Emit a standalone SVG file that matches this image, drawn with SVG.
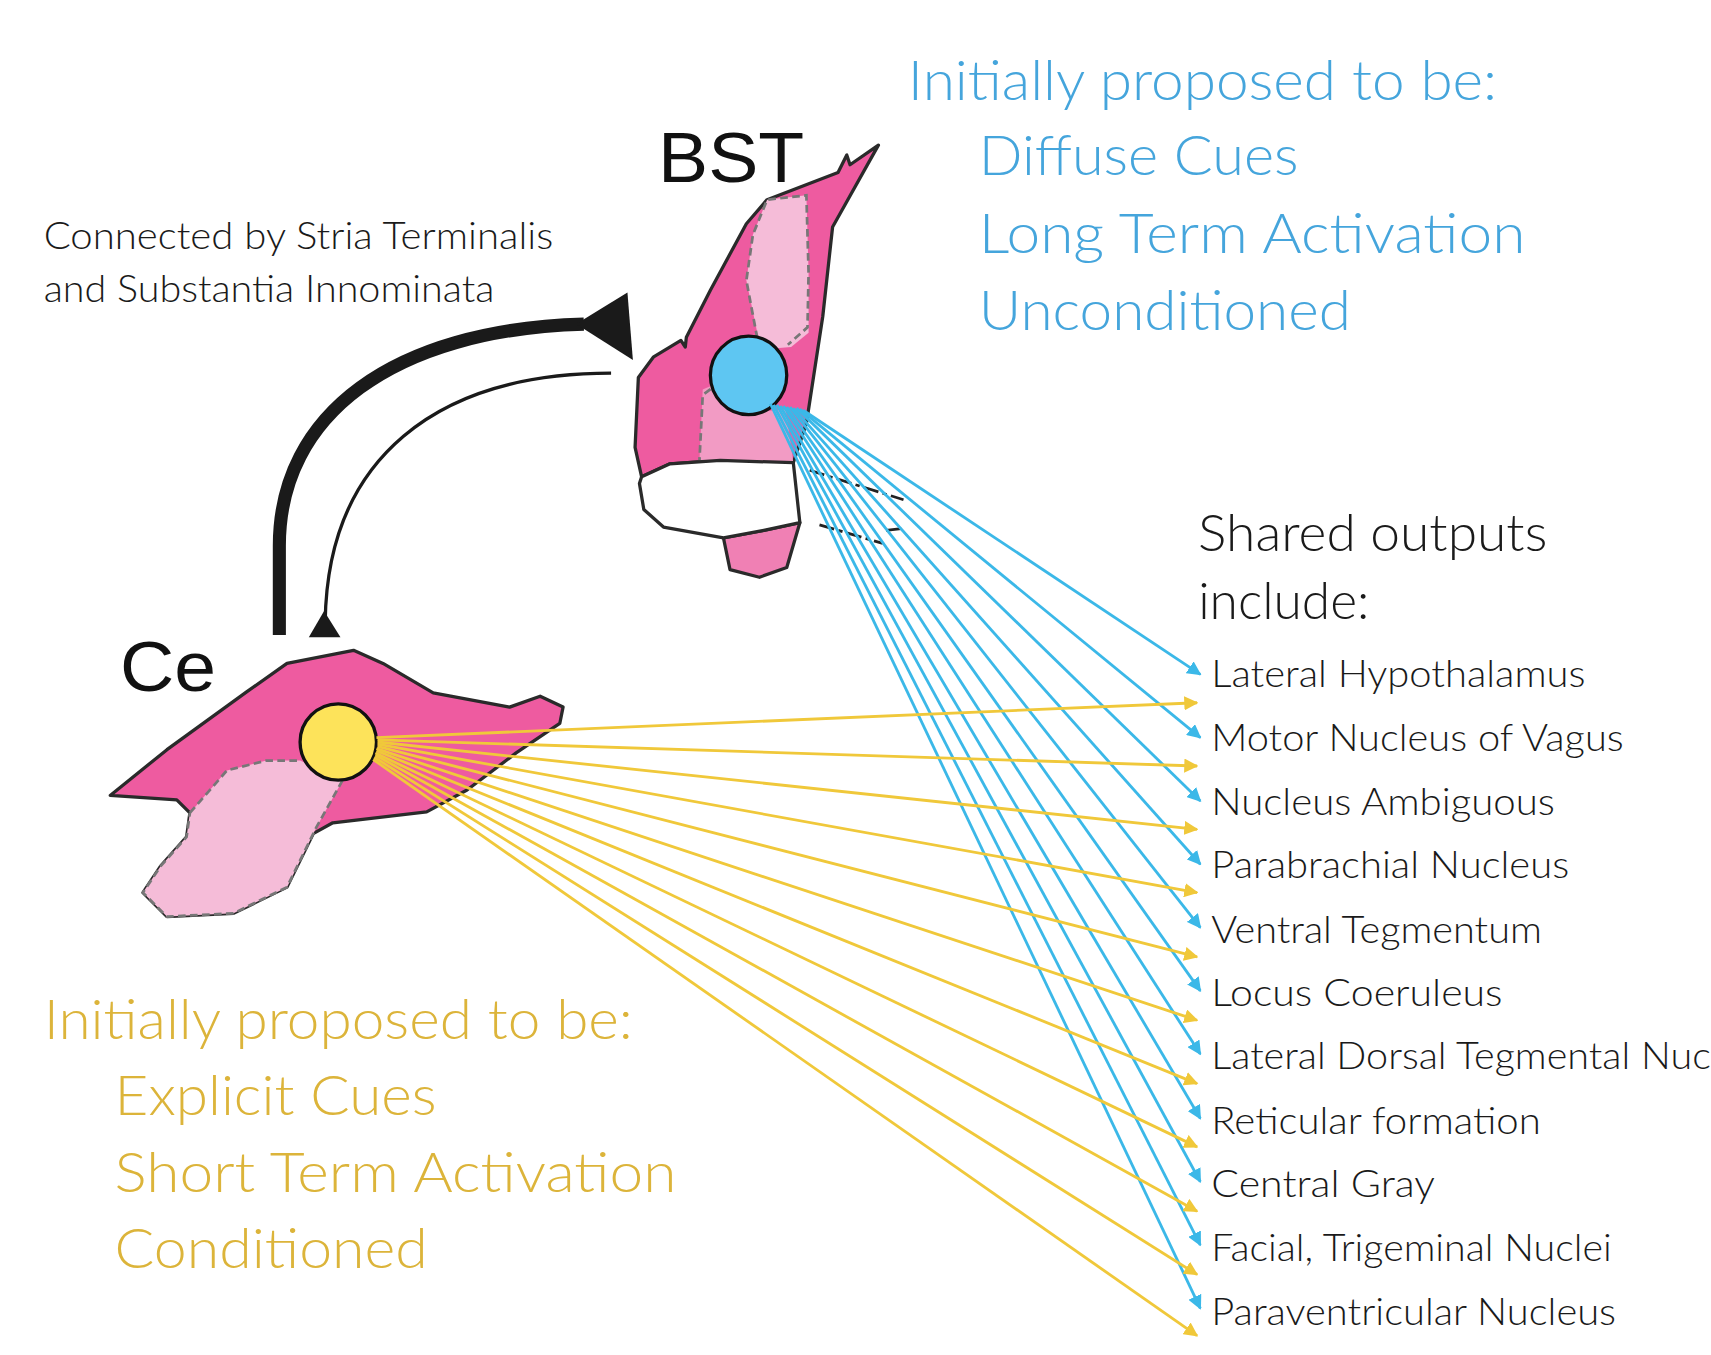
<svg xmlns="http://www.w3.org/2000/svg" width="1711" height="1355" viewBox="0 0 1711 1355">
<style>
.t{font-family:Lato,"Open Sans","Liberation Sans",sans-serif;font-weight:300}
.blue{fill:#45a5dc}
.yel{fill:#dcb43a}
.blk{fill:#1a1a1a}
.lbl{font-size:34px}
.big{font-size:50px}
.hd{font-family:"Liberation Sans",Arial,sans-serif;font-size:64px;fill:#111}
.out{stroke:#2a2a2a;stroke-width:3;stroke-linejoin:round}
.dash{fill:none;stroke:#777;stroke-width:2.5;stroke-dasharray:7 4}
.bl{stroke:#3bb8e8;stroke-width:2.6;fill:none}
.yl{stroke:#f0c83a;stroke-width:2.6;fill:none}
</style>
<defs>
<marker id="ab" viewBox="0 0 10 10" refX="9" refY="5" markerWidth="5" markerHeight="5" orient="auto"><path d="M0,0 L10,5 L0,10 z" fill="#3bb8e8"/></marker>
<marker id="ay" viewBox="0 0 10 10" refX="9" refY="5" markerWidth="5" markerHeight="5" orient="auto"><path d="M0,0 L10,5 L0,10 z" fill="#f0c83a"/></marker>
</defs>
<rect width="1711" height="1355" fill="#fff"/>
<g transform="scale(1.0912)">
<g id="bst">
<path class="out" fill="#ee5ba0" d="M805,133 L779,151 L776,142 L768,158 L703,183 L684,205 L651,266 L629,309 L628,318 L624,312 L599,327 L585,346 L582,410 L588,437 L614,425 L660,422 L727,424 L739,388 L754,290 L763,208 Z"/>
<path fill="#f5bcd8" d="M703,183 L739,179 L741,250 L741,305 L725,318 L700,320 L694,305 L684,257 L690,215 Z"/>
<path class="dash" d="M694,310 L684,257 L690,215 L703,183 L739,179 L741,250 L740,300 L722,316"/>
<path fill="#f29bc4" d="M644,357 L660,350 L690,378 L720,375 L727,424 L660,422 L641,422 Z"/>
<path class="dash" d="M660,350 L644,362 L641,422"/>
<path class="out" fill="#f080b4" d="M663,493 L669,522 L696,529 L721,520 L733,479 L700,486 Z"/>
<path class="out" fill="#fff" d="M588,437 L614,425 L660,422 L727,424 L733,479 L700,486 L663,493 L608,483 L590,467 L586,443 Z"/>
<path fill="none" stroke="#222" stroke-width="2.5" stroke-dasharray="14 4 4 4" d="M742,431 L828,458 M751,481 L809,498 M812,486 L829,484"/>
<ellipse cx="686" cy="344" rx="35" ry="36" fill="#5ec6f2" stroke="#111" stroke-width="3"/>
</g>
<g id="ce">
<path class="out" fill="#ee5ba0" d="M101,729 L153,687 L226,634 L263,608 L324,596 L351,608 L397,635 L467,648 L495,638 L516,648 L513,663 L473,690 L428,724 L391,744 L305,754 L287,764 L263,813 L214,837 L153,840 L131,818 L147,794 L171,767 L174,745 L162,733 Z"/>
<path fill="#f5bcd8" d="M290,758 L263,813 L214,837 L153,840 L131,818 L147,794 L171,767 L174,745 L208,706 L244,697 L275,697 L314,715 Z"/>
<path class="dash" d="M174,745 L208,706 L244,697 L275,697 M314,715 L290,758 L263,813 L214,837 L153,840 L131,818 L147,794 L171,767 L174,745"/>
<circle cx="310" cy="680" r="35" fill="#fde35a" stroke="#111" stroke-width="3"/>
</g>
<g id="connectors">
<path d="M256,582 L256,500 C256,380 360,302 535,297" fill="none" stroke="#1a1a1a" stroke-width="12"/>
<polygon points="575,268 580,330 528,297" fill="#1a1a1a"/>
<path d="M560,342 C400,342 300,420 298,570" fill="none" stroke="#1a1a1a" stroke-width="3"/>
<polygon points="297,560 283,584 312,584" fill="#1a1a1a"/>
<g marker-end="url(#ab)">
<path class="bl" d="M736,376 L1100,618"/>
<path class="bl" d="M733,375 L1100,676"/>
<path class="bl" d="M730,374 L1100,734"/>
<path class="bl" d="M727,374 L1100,792"/>
<path class="bl" d="M724,373 L1100,850"/>
<path class="bl" d="M721,373 L1100,908"/>
<path class="bl" d="M718,372 L1100,966"/>
<path class="bl" d="M715,372 L1100,1025"/>
<path class="bl" d="M712,371 L1100,1083"/>
<path class="bl" d="M709,371 L1100,1141"/>
<path class="bl" d="M706,370 L1100,1199"/>
</g>
<g marker-end="url(#ay)">
<path class="yl" d="M345,676 L1097,644"/>
<path class="yl" d="M346,678 L1097,702"/>
<path class="yl" d="M346,680 L1097,760"/>
<path class="yl" d="M346,682 L1097,818"/>
<path class="yl" d="M346,684 L1097,877"/>
<path class="yl" d="M345,686 L1097,935"/>
<path class="yl" d="M345,688 L1097,993"/>
<path class="yl" d="M344,690 L1097,1051"/>
<path class="yl" d="M344,692 L1097,1110"/>
<path class="yl" d="M343,694 L1097,1168"/>
<path class="yl" d="M342,696 L1097,1224"/>
</g>
</g>
<g id="labels">
<text class="hd" x="603" y="167" textLength="134" lengthAdjust="spacingAndGlyphs">BST</text>
<text class="hd" x="110" y="633" textLength="88" lengthAdjust="spacingAndGlyphs">Ce</text>
<g class="t blue big">
<text x="832" y="92" textLength="540" lengthAdjust="spacingAndGlyphs">Initially proposed to be:</text>
<text x="897" y="160" textLength="293" lengthAdjust="spacingAndGlyphs">Diffuse Cues</text>
<text x="897" y="232" textLength="501" lengthAdjust="spacingAndGlyphs">Long Term Activation</text>
<text x="897" y="302" textLength="341" lengthAdjust="spacingAndGlyphs">Unconditioned</text>
</g>
<g class="t yel big">
<text x="40" y="952" textLength="540" lengthAdjust="spacingAndGlyphs">Initially proposed to be:</text>
<text x="105" y="1022" textLength="295" lengthAdjust="spacingAndGlyphs">Explicit Cues</text>
<text x="105" y="1092" textLength="515" lengthAdjust="spacingAndGlyphs">Short Term Activation</text>
<text x="105" y="1162" textLength="287" lengthAdjust="spacingAndGlyphs">Conditioned</text>
</g>
<g class="t blk lbl">
<text x="40" y="228" textLength="467" lengthAdjust="spacingAndGlyphs">Connected by Stria Terminalis</text>
<text x="40" y="277" textLength="413" lengthAdjust="spacingAndGlyphs">and Substantia Innominata</text>
</g>
<g class="t blk" style="font-size:47px">
<text x="1098" y="505" textLength="320" lengthAdjust="spacingAndGlyphs">Shared outputs</text>
<text x="1098" y="567" textLength="157" lengthAdjust="spacingAndGlyphs">include:</text>
</g>
<g class="t blk lbl">
<text x="1110" y="630" textLength="343" lengthAdjust="spacingAndGlyphs">Lateral Hypothalamus</text>
<text x="1110" y="688" textLength="378" lengthAdjust="spacingAndGlyphs">Motor Nucleus of Vagus</text>
<text x="1110" y="747" textLength="315" lengthAdjust="spacingAndGlyphs">Nucleus Ambiguous</text>
<text x="1110" y="805" textLength="328" lengthAdjust="spacingAndGlyphs">Parabrachial Nucleus</text>
<text x="1110" y="864" textLength="303" lengthAdjust="spacingAndGlyphs">Ventral Tegmentum</text>
<text x="1110" y="922" textLength="267" lengthAdjust="spacingAndGlyphs">Locus Coeruleus</text>
<text x="1110" y="980" textLength="520" lengthAdjust="spacingAndGlyphs">Lateral Dorsal Tegmental Nucleus</text>
<text x="1110" y="1039" textLength="302" lengthAdjust="spacingAndGlyphs">Reticular formation</text>
<text x="1110" y="1097" textLength="205" lengthAdjust="spacingAndGlyphs">Central Gray</text>
<text x="1110" y="1156" textLength="367" lengthAdjust="spacingAndGlyphs">Facial, Trigeminal Nuclei</text>
<text x="1110" y="1214" textLength="371" lengthAdjust="spacingAndGlyphs">Paraventricular Nucleus</text>
</g>
</g>
</g>
</svg>
